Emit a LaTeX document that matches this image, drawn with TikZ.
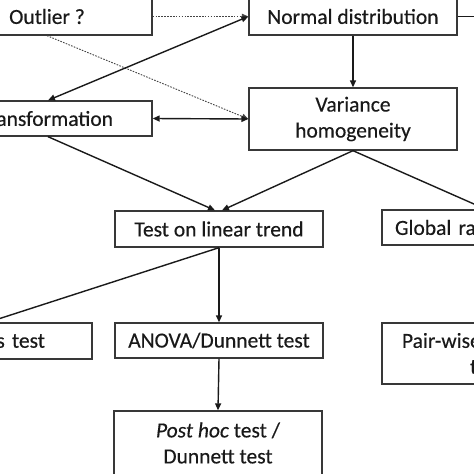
\documentclass[tikz,border=0pt]{standalone}
\usepackage{fontspec}
\setmainfont[FakeBold=0.35]{Carlito}
\usetikzlibrary{arrows.meta}
\definecolor{boxcol}{HTML}{383838}
\definecolor{linecol}{HTML}{1A1A1A}
\definecolor{dotcol}{HTML}{444444}
\tikzset{
  box/.style={draw=boxcol, line width=1.35pt, fill=white, font=\fontsize{21.5}{26}\selectfont,
    text=black!90, inner ysep=0pt, minimum height=#1},
  box/.default=36pt,
  wbox/.style={box=#1, minimum width=208pt, align=center},
  wbox/.default=36pt,
  conn/.style={draw=linecol, line width=1.4pt},
  tip/.style={-{Triangle[length=7pt,width=6pt]}},
  tips/.style={{Triangle[length=7pt,width=6pt]}-{Triangle[length=7pt,width=6pt]}},
  dotline/.style={draw=dotcol, line width=0.9pt, dash pattern=on 1.6pt off 1.3pt,
    -{Triangle[length=6.5pt,width=5.5pt]}},
}
\begin{document}
\begin{tikzpicture}[x=1pt,y=-1pt]
\useasboundingbox (0,0) rectangle (474,474);
\clip (0,0) rectangle (474,474);
\fill[white] (0,0) rectangle (474,474);

\node[box=37pt, minimum width=210pt] (out) at (47,16.5) {Outlier ?};
\node[wbox=37pt] (nd) at (353,16.5) {Normal distribution};
\node[box=35pt, text width=130pt, inner xsep=39pt, align=right] (tr) at (48,118.5) {ansformation};
\node[wbox=62pt] (vh) at (353,119) {Variance\\homogeneity};
\node[wbox=36pt] (tl) at (219,229) {Test on linear trend};
\node[box=35pt, text width=182pt, inner xsep=13pt, align=left] (gr) at (486,227.5) {Global ra};
\node[box=36pt, text width=114pt, inner xsep=47pt, align=right] (ws) at (-12,341) {s test};
\node[wbox=35pt] (an) at (219,340.5) {ANOVA/Dunnett test};
\node[box=61pt, text width=168pt, inner xsep=20pt, align=left] (pw) at (486,353.5) {Pair-wise\\\hspace*{68pt}t};
\node[wbox=64pt] (ph) at (218,443) {\textit{Post hoc} test /\\Dunnett test};
\coordinate (nx) at (480,16.5);

\draw[dotline] (out.east) -- (nd.west);
\draw[dotline] (out.south) -- (vh.west);
\draw[conn, tips] (nd.west) -- (tr.north);
\draw[conn, tips] (tr.east) -- (vh.west);
\draw[conn, tip] (nd.south) -- (vh.north);
\draw[conn] (nd.east) -- (nx);
\draw[conn, tip] (tr.south) -- ([xshift=-4pt]tl.north);
\draw[conn, tip] (vh.south) -- ([xshift=3pt]tl.north);
\draw[conn, tip] (vh.south) -- (gr.north);
\draw[conn, tip] (tl.south) -- (an.north);
\draw[conn, tip] (tl.south) -- (ws.north);
\draw[conn, tip] (an.south) -- (ph.north);
\end{tikzpicture}
\end{document}
